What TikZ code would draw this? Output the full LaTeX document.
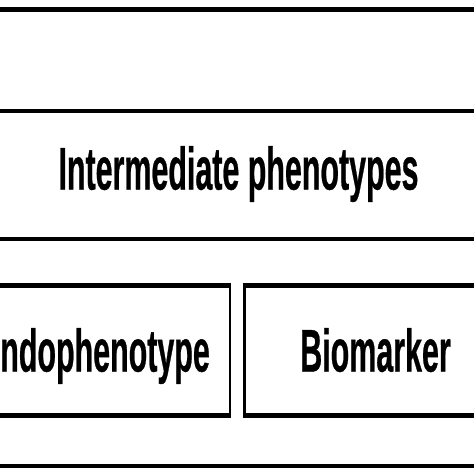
\documentclass[tikz,border=0pt]{standalone}
\usepackage{fontspec}
\setmainfont{Liberation Sans}
\newfontfamily\heavyfont{Liberation Sans Bold}[FakeBold=0.8]
\usepackage{graphicx}
\begin{document}
\begin{tikzpicture}[x=1pt,y=-1pt,
  hline/.style={line width=4.2pt},
  vline/.style={line width=2.6pt},
  lbl/.style={inner sep=0pt, font=\fontsize{60}{60}\heavyfont}]
\useasboundingbox (0,0) rectangle (474,474);
\fill[white] (0,0) rectangle (474,474);
\clip (0,0) rectangle (474,474);
% full-width band lines
\draw[hline] (-10,9.5) -- (484,9.5);
\draw[hline] (-10,110.8) -- (484,110.8);
\draw[hline] (-10,239.2) -- (484,239.2);
\draw[hline] (-10,465.8) -- (484,465.8);
% left sub-box
\draw[hline] (-10,285.5) -- (231.3,285.5);
\draw[hline] (-10,415.5) -- (231.3,415.5);
\draw[vline] (230,283.4) -- (230,417.6);
% right sub-box
\draw[hline] (243.4,285.5) -- (484,285.5);
\draw[hline] (243.4,415.5) -- (484,415.5);
\draw[vline] (244.7,283.4) -- (244.7,417.6);
% labels
\node[lbl, anchor=base] (inter) at (238.5,189.5) {\scalebox{0.507}[1]{Intermediate phenotypes}};
\node[lbl, anchor=base east] (endo) at (210,371.5) {\scalebox{0.507}[1]{ndophenotype}};
\node[lbl, anchor=base] (bio) at (375.5,371.5) {\scalebox{0.507}[1]{Biomarker}};
\end{tikzpicture}
\end{document}
